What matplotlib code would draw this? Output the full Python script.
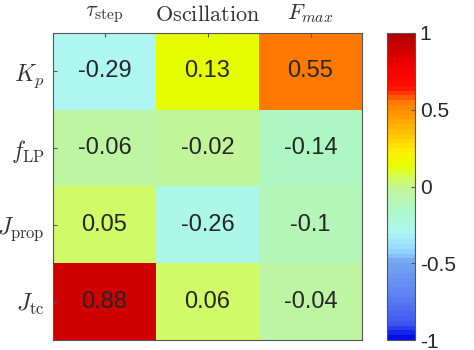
import numpy as np
import matplotlib
import matplotlib.pyplot as plt
from matplotlib.colors import LinearSegmentedColormap

plt.rcParams['mathtext.fontset'] = 'cm'

col_labels = [r'$\tau_{\mathrm{step}}$', r'$\mathrm{Oscillation}$', r'$F_{max}$']
row_labels = [r'$K_p$', r'$f_{\mathrm{LP}}$', r'$J_{\mathrm{prop}}$', r'$J_{\mathrm{tc}}$']
corr = np.array([
    [-0.29, 0.13, 0.55],
    [-0.06, -0.02, -0.14],
    [0.05, -0.26, -0.1],
    [0.88, 0.06, -0.04],
])

# custom map
stops = [
    (-1.0, (0.0, 0.05, 0.9)),
    (-0.9, (0.25, 0.35, 0.95)),
    (-0.7, (0.38, 0.52, 0.95)),
    (-0.5, (0.45, 0.65, 0.95)),
    (-0.42, (0.58, 0.85, 1.0)),
    (-0.3, (0.68, 0.97, 0.95)),
    (-0.14, (0.69, 0.97, 0.76)),
    (0.0, (0.77, 0.96, 0.58)),
    (0.06, (0.83, 0.99, 0.36)),
    (0.13, (0.89, 1.0, 0.0)),
    (0.22, (1.0, 0.95, 0.0)),
    (0.38, (1.0, 0.72, 0.0)),
    (0.55, (1.0, 0.5, 0.0)),
    (0.66, (1.0, 0.05, 0.0)),
    (0.8, (0.95, 0.0, 0.0)),
    (1.0, (0.7, 0.0, 0.0)),
]
cmap = LinearSegmentedColormap.from_list('custom', [((v + 1) / 2, c) for v, c in stops], N=64)

fig = plt.figure(figsize=(4.74, 3.5), dpi=100)
ax = fig.add_axes([53 / 474, 10 / 350, 309 / 474, 307 / 350])
cax = fig.add_axes([387 / 474, 10 / 350, 28 / 474, 307 / 350])

im = ax.imshow(corr, cmap=cmap, vmin=-1, vmax=1, aspect='auto')
for i in range(corr.shape[0]):
    for j in range(corr.shape[1]):
        ax.text(j, i, f'{corr[i, j]:g}', ha='center', va='center',
                fontsize=17, color='#262626', family='Liberation Sans')

ax.set_xticks(range(3))
ax.set_xticklabels(col_labels, fontsize=16, color='#333333')
ax.xaxis.tick_top()
ax.set_yticks(range(4))
ax.set_yticklabels(row_labels, fontsize=17, color='#333333')
ax.tick_params(direction='in', length=3, color='#555555', pad=6)
for s in ax.spines.values():
    s.set_color('#555555')

cb = fig.colorbar(im, cax=cax, ticks=[-1, -0.5, 0, 0.5, 1])
cb.ax.set_yticklabels(['-1', '-0.5', '0', '0.5', '1'], fontsize=15,
                      color='#262626', family='Liberation Sans')
cb.ax.tick_params(direction='in', length=3, color='#555555')
cb.outline.set_edgecolor('#555555')

fig.savefig('out.png', dpi=100)
